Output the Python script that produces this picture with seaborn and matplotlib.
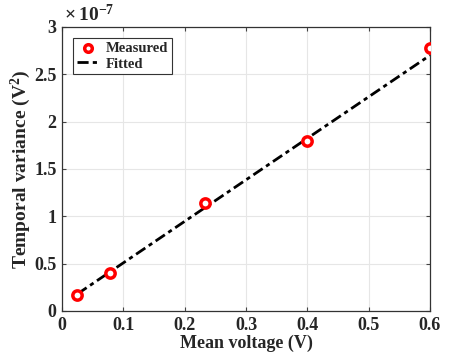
import numpy as np
import pandas as pd
import matplotlib
matplotlib.use('Agg')
import matplotlib.pyplot as plt
import seaborn as sns
from matplotlib.ticker import FuncFormatter

# measured points
mean_v = [0.025, 0.078, 0.233, 0.400, 0.600]
temp_var = [0.17e-7, 0.40e-7, 1.14e-7, 1.80e-7, 2.78e-7]
# fitted line end points
fit_v = [0.025, 0.600]
fit_var = [0.18e-7, 2.70e-7]

sns.set_style('whitegrid')
plt.rcParams['font.family'] = ['Liberation Serif', 'DejaVu Serif']
plt.rcParams['font.weight'] = 'bold'
plt.rcParams['mathtext.fontset'] = 'custom'
plt.rcParams['mathtext.rm'] = 'Liberation Serif:bold'
plt.rcParams['mathtext.bf'] = 'Liberation Serif:bold'
plt.rcParams['mathtext.default'] = 'bf'

fig, ax = plt.subplots(figsize=(4.74, 3.55), dpi=100)
fig.subplots_adjust(left=0.131, right=0.907, top=0.924, bottom=0.124)

meas = pd.DataFrame({'v': mean_v, 'var': temp_var})
fit = pd.DataFrame({'v': fit_v, 'var': fit_var})

sns.scatterplot(data=meas, x='v', y='var', ax=ax, marker='o', s=45,
                facecolors='white', edgecolor='red', linewidth=2.5,
                label='Measured', zorder=3)
sns.lineplot(data=fit, x='v', y='var', ax=ax, color='black', lw=2,
             linestyle=(0, (4, 1.5, 1.5, 1.5)), label='Fitted', zorder=2)

ax.set_xlim(0, 0.6)
ax.set_ylim(0, 3e-7)
ax.set_xticks([0, 0.1, 0.2, 0.3, 0.4, 0.5, 0.6])
ax.set_xticklabels(['0', '0.1', '0.2', '0.3', '0.4', '0.5', '0.6'])
ax.set_yticks(np.arange(0, 3.01e-7, 0.5e-7))
ax.yaxis.set_major_formatter(FuncFormatter(lambda v, _: '%g' % round(v * 1e7, 2)))
ax.text(0.005, 1.008, r'$\times\,\mathbf{10^{-7}}$', transform=ax.transAxes,
        fontsize=14, ha='left', va='bottom')

ax.tick_params(axis='both', labelsize=13, direction='in', length=3,
               color='#444444', left=True, bottom=True, top=True, right=True,
               pad=4)
for lab in ax.get_xticklabels() + ax.get_yticklabels():
    lab.set_fontweight('bold')
ax.grid(True, color='#e6e6e6', lw=0.8)
for sp in ax.spines.values():
    sp.set_color('#333333')
    sp.set_linewidth(0.9)

ax.set_xlabel('Mean voltage (V)', fontsize=13, fontweight='bold', labelpad=1)
ax.set_ylabel('Temporal variance (V$^2$)', fontsize=14, fontweight='bold', labelpad=1)

leg = ax.legend(loc='upper left', fontsize=10.5, frameon=True, fancybox=False,
                edgecolor='#333333', framealpha=1, handlelength=1.6,
                borderpad=0.25, labelspacing=0.15, handletextpad=0.4,
                borderaxespad=0, bbox_to_anchor=(0.03, 0.96))
leg.get_frame().set_linewidth(0.8)
for t in leg.get_texts():
    t.set_fontweight('bold')
leg.legend_handles[0].set_sizes([30])

plt.savefig('out.png', dpi=100)
